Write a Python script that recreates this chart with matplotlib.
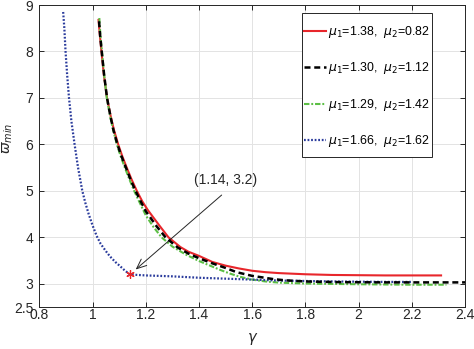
import matplotlib
matplotlib.use("Agg")
import matplotlib.pyplot as plt
from matplotlib.patches import Rectangle

plt.rcParams['font.family'] = ['Liberation Sans', 'DejaVu Sans']
plt.rcParams['mathtext.fontset'] = 'dejavusans'

# gamma vs minimum varpi for four (mu1, mu2) settings
gamma_red = [1.022, 1.027, 1.033, 1.042, 1.054, 1.068, 1.080, 1.096, 1.111, 1.128, 1.146,
             1.166, 1.186, 1.207, 1.25, 1.285, 1.33, 1.36, 1.4, 1.45, 1.5, 1.55, 1.6, 1.65,
             1.7, 1.8, 1.9, 2.0, 2.1, 2.2, 2.31]
varpi_red = [8.68, 8.35, 8.0, 7.5, 7.0, 6.6, 6.31, 6.0, 5.75, 5.5, 5.25,
             5.0, 4.78, 4.59, 4.26, 4.0, 3.79, 3.69, 3.6, 3.47, 3.39, 3.33, 3.28, 3.25,
             3.23, 3.205, 3.19, 3.185, 3.18, 3.18, 3.18]

gamma_black = [1.024, 1.028, 1.034, 1.043, 1.054, 1.067, 1.078, 1.093, 1.108, 1.125, 1.142,
               1.161, 1.18, 1.2, 1.24, 1.274, 1.32, 1.36, 1.4, 1.45, 1.5, 1.541, 1.6,
               1.635, 1.68, 1.723, 1.8, 1.93, 2.1, 2.4]
varpi_black = [8.65, 8.35, 8.0, 7.5, 7.0, 6.6, 6.31, 6.0, 5.75, 5.5, 5.25,
               5.0, 4.78, 4.56, 4.24, 4.0, 3.78, 3.65, 3.55, 3.44, 3.34, 3.25, 3.17,
               3.14, 3.1, 3.075, 3.05, 3.035, 3.03, 3.03]

gamma_green = [1.025, 1.029, 1.035, 1.043, 1.053, 1.066, 1.077, 1.091, 1.105, 1.121, 1.138,
               1.156, 1.174, 1.2, 1.229, 1.259, 1.3, 1.35, 1.4, 1.45, 1.479, 1.516, 1.554,
               1.6, 1.65, 1.7, 1.8, 2.0, 2.2, 2.33]
varpi_green = [8.72, 8.35, 8.0, 7.5, 7.0, 6.6, 6.31, 6.0, 5.75, 5.5, 5.25,
               5.0, 4.78, 4.47, 4.22, 4.0, 3.8, 3.63, 3.49, 3.37, 3.3, 3.22, 3.15,
               3.09, 3.05, 3.025, 3.005, 2.99, 2.98, 2.98]

gamma_blue = [0.889, 0.8935, 0.898, 0.904, 0.911, 0.92, 0.932, 0.945, 0.961, 0.972, 0.985,
              1.0, 1.015, 1.03, 1.05, 1.065, 1.085, 1.103, 1.12, 1.14, 1.2, 1.3, 1.4, 1.5,
              1.6, 1.7, 1.8, 1.9, 2.0, 2.1, 2.2]
varpi_blue = [8.85, 8.5, 8.0, 7.5, 7.0, 6.5, 6.0, 5.5, 5.0, 4.75, 4.5,
              4.25, 4.03, 3.86, 3.7, 3.59, 3.47, 3.38, 3.29, 3.2, 3.18, 3.16, 3.13, 3.11,
              3.09, 3.07, 3.06, 3.05, 3.045, 3.04, 3.04]

labels = [r'$\mu_1$=1.38,  $\mu_2$=0.82',
          r'$\mu_1$=1.30,  $\mu_2$=1.12',
          r'$\mu_1$=1.29,  $\mu_2$=1.42',
          r'$\mu_1$=1.66,  $\mu_2$=1.62']

point = (1.14, 3.2)
point_text = '(1.14, 3.2)'

xticks = [0.8, 1.0, 1.2, 1.4, 1.6, 1.8, 2.0, 2.2, 2.4]
xticklabels = ['0.8', '1', '1.2', '1.4', '1.6', '1.8', '2', '2.2', '2.4']
yticks = [2.5, 3, 4, 5, 6, 7, 8, 9]
yticklabels = ['2.5', '3', '4', '5', '6', '7', '8', '9']

dark = '#262626'

fig = plt.figure(figsize=(4.74, 3.49), dpi=100)
ax = fig.add_axes([0.0833, 0.1203, 0.8977, 0.8653])

ax.plot(gamma_red, varpi_red, color='#e8262b', lw=1.5, ls='-', label=labels[0], zorder=3)
ax.plot(gamma_black, varpi_black, color='black', lw=1.8, ls=(0, (2.4, 1.5)), label=labels[1], zorder=4)
ax.plot(gamma_green, varpi_green, color='#5cbf45', lw=1.5, ls=(0, (2.6, 0.9, 0.9, 0.9)), label=labels[2], zorder=3)
ax.plot(gamma_blue, varpi_blue, color='#2a3b9c', lw=1.6, ls=(0, (0.8, 0.8)), label=labels[3], zorder=3)

ax.plot([point[0]], [point[1]], marker=(6, 2, 0), color='#e8262b', ms=6, mew=0.9, zorder=5)
ax.annotate('', xy=point, xytext=(1.485, 4.91),
            arrowprops=dict(arrowstyle='->,head_length=0.7,head_width=0.3', color=dark,
                            lw=0.7, shrinkA=0, shrinkB=5.5))
ax.text(1.499, 5.24, point_text, ha='center', va='center', fontsize=10, color=dark)

ax.set_xlim(0.8, 2.4)
ax.set_ylim(2.5, 9)
ax.set_xticks(xticks)
ax.set_xticklabels(xticklabels)
ax.set_yticks(yticks)
ax.set_yticklabels(yticklabels)
ax.tick_params(direction='in', length=3.6, width=0.7, colors=dark, labelsize=10,
               top=True, right=True)
ax.tick_params(axis='x', pad=0.5)
ax.tick_params(axis='y', pad=4.5)
ax.grid(True, color='#e3e3e3', lw=0.7)
ax.set_axisbelow(True)
for s in ax.spines.values():
    s.set_color(dark)
    s.set_linewidth(0.7)

ax.set_xlabel(r'$\gamma$', fontsize=10.5, color=dark, labelpad=6.5)
ax.set_ylabel(r'$\varpi_{min}$', fontsize=10, color=dark)
ax.yaxis.set_label_coords(-0.058, 0.56)

# legend box with tall rows and a tight left margin
ax.add_patch(Rectangle((0.616, 0.4977), 0.923 - 0.616, 0.9745 - 0.4977, transform=ax.transAxes,
                       facecolor='white', edgecolor=dark, lw=0.7, zorder=6))
leg = ax.legend(loc='upper left', bbox_to_anchor=(0.6216, 0.937), borderaxespad=0,
                fontsize=8.9, frameon=False, labelspacing=1.65, handlelength=1.8,
                handletextpad=0.14, borderpad=0)
leg.set_zorder(7)

fig.savefig('out.png', dpi=100)
